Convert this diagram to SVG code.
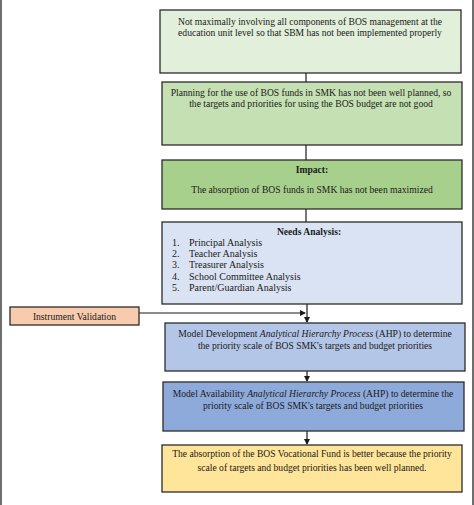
<svg xmlns="http://www.w3.org/2000/svg" width="474" height="505" viewBox="0 0 474 505">
<defs>
<style>
.box{stroke:#2b2b2b;stroke-width:1.3}
.t{font-family:"Liberation Serif","Times New Roman",serif;font-size:9.6px;fill:#1a1a1a}
.l{font-size:10px}
.c{text-anchor:middle}
.b{font-weight:bold}
.ln{stroke:#1a1a1a;stroke-width:1.2;fill:none}
</style>
<marker id="ah" markerWidth="6" markerHeight="6" refX="5" refY="3" orient="auto" markerUnits="userSpaceOnUse">
<path d="M0,0 L6,3 L0,6 Z" fill="#1a1a1a"/>
</marker>
</defs>
<rect width="474" height="505" fill="#ffffff"/>
<rect x="0" y="0" width="2" height="505" fill="#6e6e6e"/>
<rect x="472" y="0" width="2" height="505" fill="#6e6e6e"/>

<g id="connectors">
<line class="ln" x1="306" y1="73" x2="306" y2="82"/>
<line class="ln" x1="306" y1="145" x2="306" y2="160"/>
<line class="ln" x1="306" y1="209" x2="306" y2="222"/>
<line class="ln" x1="307" y1="304" x2="307" y2="322" marker-end="url(#ah)"/>
<line class="ln" x1="139" y1="313" x2="305" y2="313" marker-end="url(#ah)"/>
<line class="ln" x1="307" y1="371" x2="307" y2="381" marker-end="url(#ah)"/>
<line class="ln" x1="307" y1="431" x2="307" y2="444" marker-end="url(#ah)"/>
</g>

<g id="n1">
<rect class="box" x="160" y="10" width="301" height="63" fill="#e2efda"/>
<text class="t c" x="310" y="24.5">Not maximally involving all components of BOS management at the</text>
<text class="t c" x="310" y="36">education unit level so that SBM has not been implemented properly</text>
</g>

<g id="n2">
<rect class="box" x="162" y="82" width="300" height="63" fill="#c5e0b3"/>
<text class="t c" x="311" y="95.5">Planning for the use of BOS funds in SMK has not been well planned, so</text>
<text class="t c" x="311" y="107">the targets and priorities for using the BOS budget are not good</text>
</g>

<g id="n3">
<rect class="box" x="162" y="160" width="300" height="49" fill="#a8d08d"/>
<text class="t c b" x="312" y="173">Impact:</text>
<text class="t c" x="312" y="193">The absorption of BOS funds in SMK has not been maximized</text>
</g>

<g id="n4">
<rect class="box" x="162" y="222" width="300" height="82" fill="#dae3f3"/>
<text class="t c b" x="309" y="234.5">Needs Analysis:</text>
<text class="t l" x="172" y="245.5">1.</text><text class="t l" x="189" y="245.5">Principal Analysis</text>
<text class="t l" x="172" y="257">2.</text><text class="t l" x="189" y="257">Teacher Analysis</text>
<text class="t l" x="172" y="268">3.</text><text class="t l" x="189" y="268">Treasurer Analysis</text>
<text class="t l" x="172" y="279.5">4.</text><text class="t l" x="189" y="279.5">School Committee Analysis</text>
<text class="t l" x="172" y="290.5">5.</text><text class="t l" x="189" y="290.5">Parent/Guardian Analysis</text>
</g>

<g id="n5">
<rect class="box" x="10" y="307" width="129" height="18" fill="#f8cbad"/>
<text class="t c" x="74.5" y="319.5">Instrument Validation</text>
</g>

<g id="n6">
<rect class="box" x="165" y="323" width="300" height="48" fill="#b4c6e7"/>
<text class="t c" x="315" y="336.5">Model Development <tspan font-style="italic">Analytical Hierarchy Process</tspan> (AHP) to determine</text>
<text class="t c" x="315" y="348.5">the priority scale of BOS SMK's targets and budget priorities</text>
</g>

<g id="n7">
<rect class="box" x="163" y="382" width="301" height="49" fill="#8eaadb"/>
<text class="t c" x="313" y="396.5">Model Availability <tspan font-style="italic">Analytical Hierarchy Process</tspan> (AHP) to determine the</text>
<text class="t c" x="313" y="408.5">priority scale of BOS SMK's targets and budget priorities</text>
</g>

<g id="n8">
<rect class="box" x="162" y="445" width="300" height="47" fill="#ffe599"/>
<text class="t c" x="312" y="456.5">The absorption of the BOS Vocational Fund is better because the priority</text>
<text class="t c" x="312" y="470.5">scale of targets and budget priorities has been well planned.</text>
</g>
</svg>
